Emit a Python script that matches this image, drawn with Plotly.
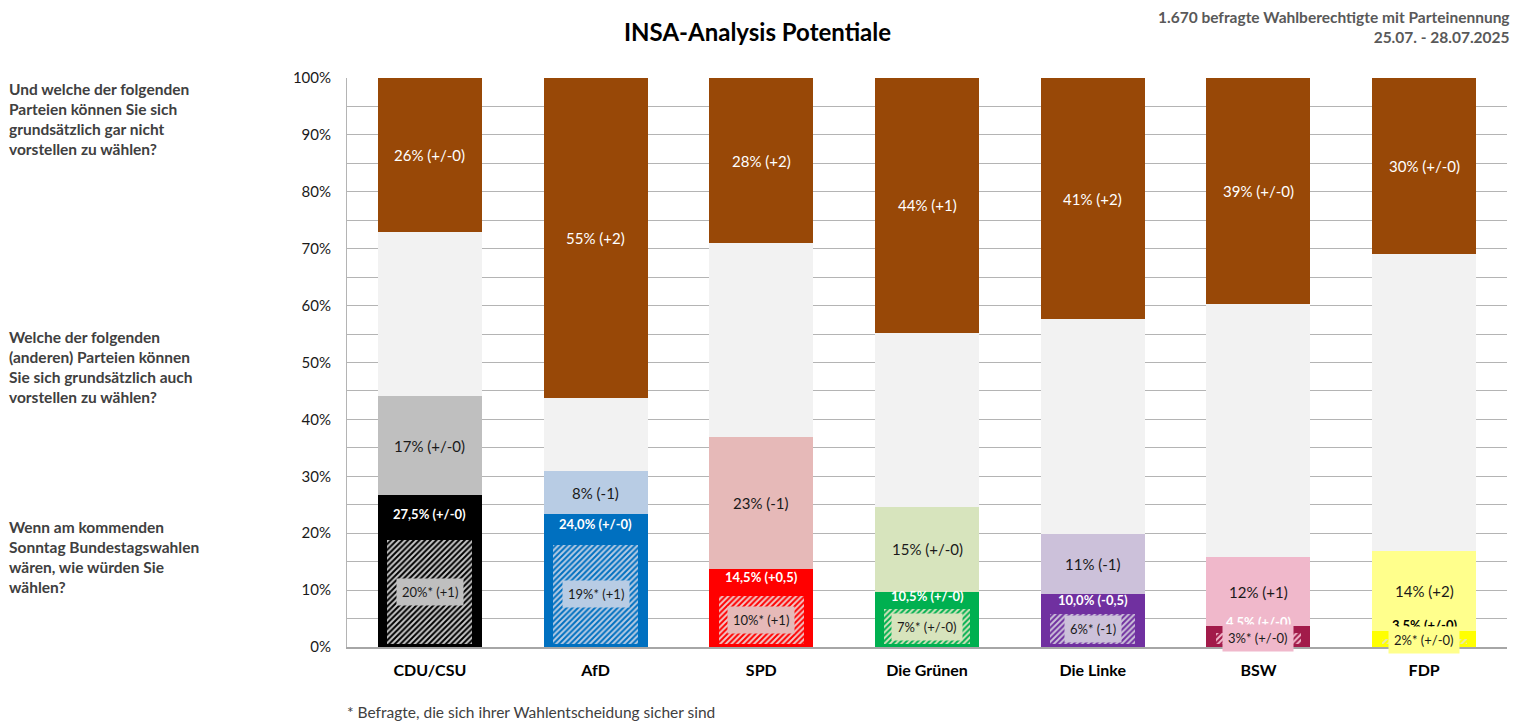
import plotly.graph_objects as go
import numpy as np

# ---------------- data ----------------
parties = ["CDU/CSU", "AfD", "SPD", "Die Grünen", "Die Linke", "BSW", "FDP"]

# stacked segment heights (percent of respondents), bottom -> top
wahl = [26.7, 23.3, 13.7, 9.7, 9.3, 3.7, 2.8]            # Sonntagsfrage
potenzial = [17.4, 7.6, 23.2, 14.9, 10.6, 12.1, 14.1]    # auch vorstellbar
offen = [28.8, 12.9, 34.1, 30.6, 37.7, 44.5, 52.2]       # weder noch
ablehnung = [27.1, 56.2, 29.0, 44.8, 42.4, 39.7, 30.9]   # gar nicht vorstellbar
sicher = [19.3, 18.5, 9.5, 7.2, 6.3, 3.0, 2.0]           # sichere Wähler (schraffiert)

wahl_lbl = ["27,5% (+/-0)", "24,0% (+/-0)", "14,5% (+0,5)", "10,5% (+/-0)",
            "10,0% (-0,5)", "4,5% (+/-0)", "3,5% (+/-0)"]
pot_lbl = ["17% (+/-0)", "8% (-1)", "23% (-1)", "15% (+/-0)", "11% (-1)",
           "12% (+1)", "14% (+2)"]
abl_lbl = ["26% (+/-0)", "55% (+2)", "28% (+2)", "44% (+1)", "41% (+2)",
           "39% (+/-0)", "30% (+/-0)"]
sicher_lbl = ["20%* (+1)", "19%* (+1)", "10%* (+1)", "7%* (+/-0)", "6%* (-1)",
              "3%* (+/-0)", "2%* (+/-0)"]

# ---------------- styles ----------------
solid_col = ["#000000", "#0070C0", "#FF0000", "#00B050", "#7030A0", "#A21B4A", "#FFFF00"]
light_col = ["#BFBFBF", "#B8CCE4", "#E6B9B8", "#D7E4BD", "#CCC1DA", "#F0B8CB", "#FFFF8C"]
hatch_fg = ["#C8C8C8", "#B8CCE4", "#F0C8C8", "#D7E4BD", "#CCC1DA", "#F0B8CB", "#E8E8B0"]
wahl_txt_col = ["white"] * 6 + ["black"]
solid_label_dy = [19, 10, 8, 4, 6, -4, -6]   # px below the segment top
BROWN = "#984807"
NEUTRAL = "#F2F2F2"
FONT = "Lato"

BAR_W = 0.628
HATCH_W = 0.55

cum1 = np.array(wahl)
cum2 = cum1 + np.array(potenzial)
cum3 = cum2 + np.array(offen)
cum4 = cum3 + np.array(ablehnung)

fig = go.Figure()

segments = [
    (wahl, np.zeros(len(parties)), solid_col),
    (potenzial, cum1, light_col),
    (offen, cum2, NEUTRAL),
    (ablehnung, cum3, BROWN),
]
for vals, base, col in segments:
    fig.add_trace(go.Bar(x=parties, y=vals, base=base,
                         marker=dict(color=col, line=dict(width=0)),
                         width=BAR_W, hoverinfo="skip", showlegend=False))

# hatched "sichere Wähler" bars, one trace per party
for i, p in enumerate(parties):
    fig.add_trace(go.Bar(
        x=[p], y=[sicher[i]], base=[0], width=HATCH_W,
        marker=dict(color=solid_col[i], line=dict(color=solid_col[i], width=6),
                    pattern=dict(shape="/", fgcolor=hatch_fg[i], bgcolor=solid_col[i],
                                 size=4, solidity=0.5, fillmode="replace")),
        hoverinfo="skip", showlegend=False))

ann = []
for i, p in enumerate(parties):
    ann.append(dict(x=p, y=(cum3[i] + cum4[i]) / 2, text=abl_lbl[i], showarrow=False,
                    font=dict(family=FONT, size=15, color="white")))
    ann.append(dict(x=p, y=(cum1[i] + cum2[i]) / 2, text=pot_lbl[i], showarrow=False,
                    font=dict(family=FONT, size=15, color="#1a1a1a")))
    ann.append(dict(x=p, y=cum1[i], yshift=-solid_label_dy[i], text=wahl_lbl[i],
                    showarrow=False, yanchor="middle",
                    font=dict(family=FONT, size=13, color=wahl_txt_col[i], weight="bold")))
    ann.append(dict(x=p, y=sicher[i] / 2 if i < 5 else 1.6 - 0.3 * (i - 5), text=sicher_lbl[i],
                    showarrow=False, bgcolor=light_col[i], borderpad=5,
                    font=dict(family=FONT, size=13, color="#1a1a1a")))

ann.append(dict(xref="paper", yref="paper", x=(757 - 347) / 1160, y=1, yanchor="middle",
                yshift=47, text="INSA-Analysis Potentiale", showarrow=False,
                font=dict(family=FONT, size=24, color="black", weight="bold")))
ann.append(dict(xref="paper", yref="paper", x=(1512 - 347) / 1160, xanchor="right",
                y=1, yanchor="middle", yshift=51, align="right",
                text="1.670 befragte Wahlberechtigte mit Parteinennung<br>25.07. - 28.07.2025",
                showarrow=False,
                font=dict(family=FONT, size=15.5, color="#595959", weight="bold")))

left_texts = [
    ("Und welche der folgenden<br>Parteien können Sie sich<br>grundsätzlich gar nicht<br>vorstellen zu wählen?", 78),
    ("Welche der folgenden<br>(anderen) Parteien können<br>Sie sich grundsätzlich auch<br>vorstellen zu wählen?", 326),
    ("Wenn am kommenden<br>Sonntag Bundestagswahlen<br>wären, wie würden Sie<br>wählen?", 516),
]
for txt, ytop in left_texts:
    ann.append(dict(xref="paper", yref="paper", x=(7 - 347) / 1160, xanchor="left",
                    y=1 - (ytop - 78) / 569, yanchor="top", align="left",
                    text=txt, showarrow=False,
                    font=dict(family=FONT, size=15.5, color="#404040", weight="bold")))

ann.append(dict(xref="paper", yref="paper", x=(345 - 347) / 1160, xanchor="left",
                y=0, yshift=-65, yanchor="middle",
                text="* Befragte, die sich ihrer Wahlentscheidung sicher sind",
                showarrow=False, font=dict(family=FONT, size=15.5, color="#404040")))

fig.update_layout(
    width=1525, height=724,
    margin=dict(l=347, r=18, t=78, b=77),
    paper_bgcolor="white", plot_bgcolor="white",
    barmode="overlay", bargap=0,
    font=dict(family=FONT),
    annotations=ann,
    xaxis=dict(categoryorder="array", categoryarray=parties,
               tickfont=dict(family=FONT, size=16, color="black", weight="bold"),
               showline=True, linecolor="#A6A6A6", linewidth=1.5,
               ticks="", ticklabelstandoff=8, showgrid=False),
    yaxis=dict(range=[0, 100], dtick=10, ticksuffix="%",
               tickfont=dict(family=FONT, size=15, color="#1a1a1a"),
               showgrid=True, gridcolor="#B4B4B4", gridwidth=1,
               minor=dict(dtick=5, showgrid=True, gridcolor="#B4B4B4", gridwidth=1),
               showline=True, linecolor="#B4B4B4", linewidth=1,
               zeroline=False, ticks="", ticklabelstandoff=12),
)

fig.write_html("out.html")
